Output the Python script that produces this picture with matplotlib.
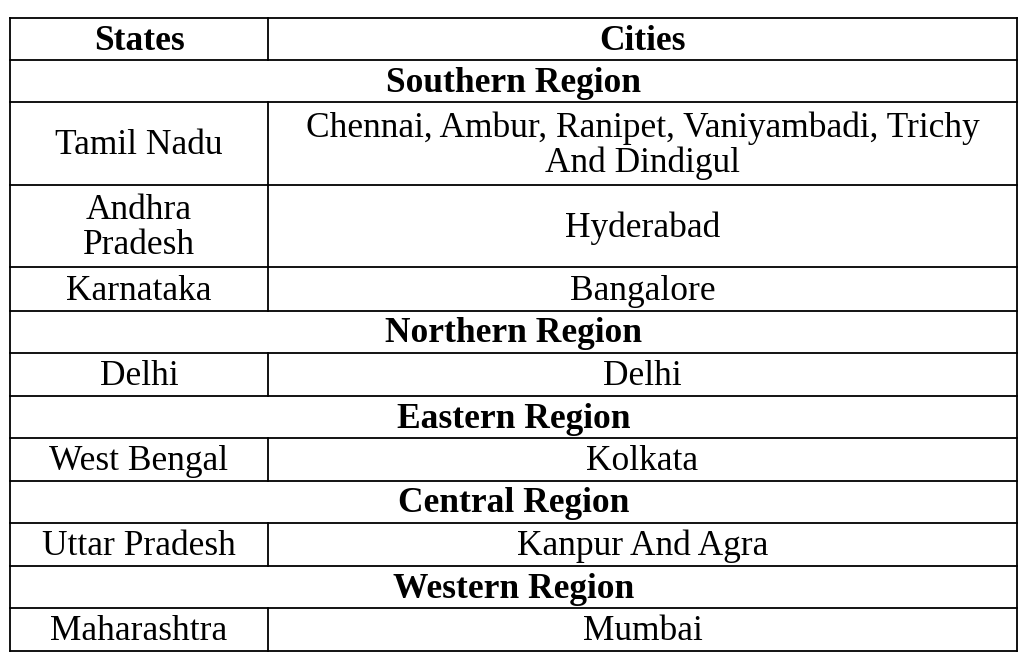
import matplotlib.pyplot as plt

# table content
header = ["States", "Cities"]
rows = [
    ("region", "Southern Region"),
    ("Tamil Nadu", "Chennai, Ambur, Ranipet, Vaniyambadi, Trichy\nAnd Dindigul"),
    ("Andhra\nPradesh", "Hyderabad"),
    ("Karnataka", "Bangalore"),
    ("region", "Northern Region"),
    ("Delhi", "Delhi"),
    ("region", "Eastern Region"),
    ("West Bengal", "Kolkata"),
    ("region", "Central Region"),
    ("Uttar Pradesh", "Kanpur And Agra"),
    ("region", "Western Region"),
    ("Maharashtra", "Mumbai"),
]

# layout in pixels
left, mid, right = 10, 268, 1017
top = 18
row_h = [42, 42, 83, 82, 44, 42, 43, 42, 43, 42, 43, 42, 43]

fig = plt.figure(figsize=(10.21, 6.63), dpi=100)
ax = fig.add_axes([0, 0, 1, 1])
ax.set_xlim(0, 1021)
ax.set_ylim(663, 0)
ax.axis("off")

font = "Liberation Serif"
fs = 25.5
dy = 2

edges = [top]
for h in row_h:
    edges.append(edges[-1] + h)

for y in edges:
    ax.plot([left, right], [y, y], color="black", lw=1.3)
ax.plot([left, left], [edges[0], edges[-1]], color="black", lw=1.3)
ax.plot([right, right], [edges[0], edges[-1]], color="black", lw=1.3)

def center(i):
    return (edges[i] + edges[i + 1]) / 2 + dy

# header
ax.text((left + mid) / 2, center(0), header[0], ha="center", va="center",
        fontsize=fs, fontweight="bold", family=font)
ax.text((mid + right) / 2, center(0), header[1], ha="center", va="center",
        fontsize=fs, fontweight="bold", family=font)
ax.plot([mid, mid], [edges[0], edges[1]], color="black", lw=1.3)

for i, (state, city) in enumerate(rows, start=1):
    yc = center(i)
    if state == "region":
        ax.text((left + right) / 2, yc, city, ha="center", va="center",
                fontsize=fs, fontweight="bold", family=font)
    else:
        ax.plot([mid, mid], [edges[i], edges[i + 1]], color="black", lw=1.3)
        ax.text((left + mid) / 2, yc, state, ha="center", va="center",
                fontsize=fs, family=font, linespacing=1.05)
        ax.text((mid + right) / 2, yc, city, ha="center", va="center",
                fontsize=fs, family=font, linespacing=1.05)

fig.savefig("out.png", dpi=100, facecolor="white")
